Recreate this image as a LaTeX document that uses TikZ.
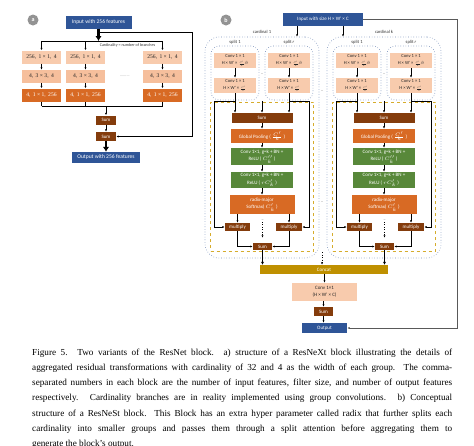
\documentclass[tikz,border=0pt]{standalone}
\usepackage{fix-cm}
\usepackage{amsmath}
\usepackage{fontspec}
\setmainfont{Liberation Serif}
\newfontfamily\diagfont{Carlito}
\usetikzlibrary{arrows.meta}

\definecolor{inblue}{RGB}{47,85,151}
\definecolor{peach}{RGB}{248,203,173}
\definecolor{peachdk}{RGB}{246,191,156}
\definecolor{orng}{RGB}{216,106,36}
\definecolor{brwn}{RGB}{132,60,12}
\definecolor{grn}{RGB}{88,136,58}
\definecolor{mustard}{RGB}{191,144,0}
\definecolor{ylw}{RGB}{214,172,44}
\definecolor{dotblue}{RGB}{118,142,184}

\tikzset{
    blk/.style = {inner sep = 0pt , align = center , font = \diagfont\fontsize{5}{6.3}\selectfont},
    inbox/.style = {blk , fill = inblue , text = white},
    lightbox/.style = {blk , fill = peach , text = black!85},
    orangebox/.style = {blk , fill = orng , text = white},
    sumbox/.style = {blk , fill = brwn , text = white},
    greenbox/.style = {blk , fill = grn , text = white},
    mustardbox/.style = {blk , fill = mustard , text = white},
    rowtext/.style = {font = \rmfamily\fontsize{5.6}{6}\selectfont , minimum width = 39pt , minimum height = 13pt},
    convtext/.style = {font = \diagfont\fontsize{4.6}{7.2}\selectfont , minimum width = 42pt , minimum height = 15pt},
    twoline/.style = {font = \diagfont\fontsize{5}{7.4}\selectfont},
    cardbox/.style = {draw = dotblue , dotted , line width = 0.6pt , rounded corners = 14pt , inner sep = 0pt},
    splitbox/.style = {draw = dotblue , dotted , line width = 0.6pt , rounded corners = 8pt , inner sep = 0pt},
    attbox/.style = {draw = ylw , dashed , line width = 0.9pt , inner sep = 0pt},
    note/.style = {inner sep = 0pt , text = black!80 , font = \diagfont\fontsize{4.6}{5}\selectfont},
    gapmark/.style = {inner sep = 0pt , text = gray , font = \diagfont\fontsize{5}{5}\selectfont},
    tag/.style = {circle , fill = gray!85 , text = white , inner sep = 0pt , minimum size = 11pt , font = \diagfont\bfseries\fontsize{6}{6}\selectfont},
    arr/.style = {-{Latex[length = 2.4pt , width = 2pt]} , line width = 0.5pt},
    fatarr/.style = {-{Latex[length = 5pt , width = 6.5pt]} , line width = 2.6pt},
    midarr/.style = {-{Latex[length = 3pt , width = 3pt]} , line width = 1.3pt}
}

\begin{document}
\begin{tikzpicture}[x = 1pt , y = -1pt]
    \useasboundingbox (0,0) rectangle (474,445);

    % a) ResNeXt block
    \node[tag] (tagA) at (33,20) {a};
    \node[inbox , font = \diagfont\fontsize{5.6}{6}\selectfont , minimum width = 66pt , minimum height = 13pt] (inA) at (98.5,22) {Input with 256 features};
    \coordinate (busA) at (98.5,41); % top bus
    \coordinate (resA) at (98.5,32); % skip branch
    \coordinate (botA) at (106,106); % bottom bus
    \node[note , font = \diagfont\fontsize{4.1}{4}\selectfont] (cardA) at (127.5,45.5) {Cardinality = number of branches};
    \foreach \cx/\nm in {41.5/p,85.5/q,162.5/s} {
        \node[lightbox , rowtext] (ra\nm) at (\cx,57) {256,\, 1 × 1,\, 4};
        \node[lightbox , rowtext , fill = peachdk] (rb\nm) at (\cx,76.5) {4,\, 3 × 3,\, 4};
        \node[orangebox , rowtext] (rc\nm) at (\cx,95) {4,\, 1 × 1,\, 256};
        \draw[arr] (ra\nm.north |- busA) -- (ra\nm.north);
        \draw[arr] (ra\nm) -- (rb\nm);
        \draw[arr] (rb\nm) -- (rc\nm);
        \draw[line width = 0.5pt] (rc\nm.south) -- (rc\nm.south |- botA);
    }
    \draw[line width = 0.6pt] (rap.north |- busA) -- (ras.north |- busA);
    \draw[line width = 0.5pt] (rcp.south |- botA) -- (rcs.south |- botA);
    \node[gapmark , font = \diagfont\fontsize{4}{4}\selectfont] (dotsA) at (125,76) {.........};
    \node[sumbox , minimum width = 20pt , minimum height = 9pt] (sum1A) at (106,120) {Sum};
    \node[sumbox , minimum width = 20pt , minimum height = 9pt] (sum2A) at (106,136.5) {Sum};
    \node[inbox , font = \diagfont\fontsize{5.6}{6}\selectfont , minimum width = 68pt , minimum height = 11pt] (outA) at (106,157.5) {Output with 256 features};
    \draw[fatarr] (inA.south) -- (busA);
    \draw[arr] (botA) -- (sum1A.north);
    \draw[arr] (sum1A) -- (sum2A);
    \draw[arr , line width = 0.8pt] (resA) -| ([xshift = 76pt]sum2A.east) -- (sum2A.east);
    \draw[fatarr] (sum2A.south) -- (outA.north);

    % b) ResNeSt block
    \node[tag] (tagB) at (226,20) {b};
    \node[inbox , minimum width = 80pt , minimum height = 13pt] (inB) at (323,19.5) {Input with size H × W' × C};
    \node[mustardbox , minimum width = 128pt , minimum height = 9pt] (concat) at (324,269.5) {Concat};
    \foreach \dx/\cn in {0/1,122/k} {
        \begin{scope}[xshift = \dx pt]
            \node[cardbox , minimum width = 114pt , minimum height = 221pt] (card\cn) at (262,147.5) {};
            \node[note] (cardlab\cn) at (262,31.5) {cardinal \cn};
            \node[splitbox , minimum width = 48pt , minimum height = 54pt] (spA\cn) at (235,73) {};
            \node[splitbox , minimum width = 48pt , minimum height = 54pt] (spB\cn) at (289,73) {};
            \node[note] (spAlab\cn) at (235,42.5) {split 1};
            \node[note] (spBlab\cn) at (289,42.5) {split \textit{r}};
            \node[attbox , minimum width = 103pt , minimum height = 149pt] (att\cn) at (262,176.5) {};
            \node[lightbox , convtext] (cvA\cn) at (235,60.5) {Conv 1 × 1\\H × W' × ${\scriptstyle\frac{C'}{k}}$/r};
            \node[lightbox , convtext] (cvB\cn) at (235,85.5) {Conv 1 × 1\\H × W' × ${\scriptstyle\frac{C'}{k}}$};
            \node[lightbox , convtext] (cvC\cn) at (289,60.5) {Conv 1 × 1\\H × W' × ${\scriptstyle\frac{C'}{k}}$/r};
            \node[lightbox , convtext] (cvD\cn) at (289,85.5) {Conv 1 × 1\\H × W' × ${\scriptstyle\frac{C'}{k}}$};
            \node[gapmark] (gapS\cn) at (262,75) {–};
            \node[sumbox , minimum width = 61pt , minimum height = 10pt] (sumA\cn) at (262,118) {Sum};
            \node[orangebox , minimum width = 62pt , minimum height = 14pt] (gp\cn) at (262,136) {Global Pooling ( ${\scriptstyle\frac{C'}{k}}$ )};
            \node[greenbox , twoline , minimum width = 62pt , minimum height = 17pt] (gA\cn) at (262,156.5) {Conv 1×1, g=k + BN +\\ReLU ( $C''_{k}$ )};
            \node[greenbox , twoline , minimum width = 62pt , minimum height = 16pt] (gB\cn) at (262,180) {Conv 1×1, g=k + BN +\\ReLU ( $rC'_{k}$ )};
            \node[orangebox , twoline , minimum width = 65pt , minimum height = 19pt] (sm\cn) at (262,204.5) {radix-major\\Softmax( $C'_{k}$ )};
            \node[sumbox , minimum width = 25pt , minimum height = 8pt] (mulA\cn) at (237.5,227) {multiply};
            \node[sumbox , minimum width = 26pt , minimum height = 8pt] (mulB\cn) at (289,227) {multiply};
            \node[sumbox , minimum width = 19pt , minimum height = 7pt] (sumB\cn) at (262.5,246.5) {Sum};
            \node[gapmark] (gapM\cn) at (262.5,221) {–};
            \coordinate (mid\cn) at (262,101);
            \draw[arr] (cvA\cn) -- (cvB\cn);
            \draw[arr] (cvC\cn) -- (cvD\cn);
            \draw[arr] (cvB\cn.south) -- (cvB\cn.south |- sumA\cn.north);
            \draw[arr] (cvD\cn.south) -- (cvD\cn.south |- sumA\cn.north);
            \draw[arr] (mid\cn) -- (sumA\cn.north);
            \draw[arr] (cvB\cn.south |- mid\cn) -| ([xshift = -11pt]mulA\cn.west) -- (mulA\cn.west);
            \draw[arr] (cvD\cn.south |- mid\cn) -| ([xshift = 7pt]mulB\cn.east) -- (mulB\cn.east);
            \draw[arr] (sumA\cn) -- (gp\cn);
            \draw[arr] (gp\cn) -- (gA\cn);
            \draw[arr] (gA\cn) -- (gB\cn);
            \draw[arr] (gB\cn) -- (sm\cn);
            \draw[arr] (sm\cn.south -| mulA\cn) -- (mulA\cn.north);
            \draw[arr] (sm\cn.south -| mulB\cn) -- (mulB\cn.north);
            \draw[arr] (mulA\cn.south) |- (sumB\cn.west);
            \draw[arr] (mulB\cn.south) |- (sumB\cn.east);
            \draw[arr , dotted] (gapM\cn.south) -- ([yshift = 5pt]sumB\cn.north);
            \draw[midarr] (sumB\cn.south) -- (sumB\cn.south |- concat.north);
        \end{scope}
    }
    \node[gapmark] (gapC1) at (322,92) {–};
    \node[gapmark] (gapC2) at (322,203) {–};
    \coordinate (gapC3) at (322,252);
    \node[lightbox , twoline , minimum width = 65pt , minimum height = 18pt] (cvOut) at (324.5,292) {Conv 1×1\\(H × W' × C)};
    \node[sumbox , minimum width = 19pt , minimum height = 9pt] (sumOut) at (323.5,311.5) {Sum};
    \node[inbox , minimum width = 45pt , minimum height = 10pt] (outB) at (324.5,328) {Output};
    \draw[arr] ([xshift = -26pt]inB.south) -- ([xshift = -26pt]inB.south |- card1.north);
    \draw[arr] ([xshift = 20pt]inB.south) -- ([xshift = 20pt]inB.south |- cardk.north);
    \draw[arr , dotted] (gapC3) -- (gapC3 |- concat.north);
    \draw[arr] (concat.south -| cvOut) -- (cvOut.north);
    \draw[arr] (cvOut.south -| sumOut) -- (sumOut.north);
    \draw[arr] (sumOut.south) -- (sumOut.south |- outB.north);
    \draw[arr , draw = black!65 , line width = 1pt] (inB.east) -| ([xshift = 110pt]outB.east) -- (outB.east);

    % caption
    \node[anchor = north west , text width = 420pt , align = justify , inner sep = 0pt , font = \fontsize{9.2}{15.1}\selectfont] (caption) at (32,349) {Figure 5. Two variants of the ResNet block. a) structure of a ResNeXt block illustrating the details of\linebreak aggregated residual transformations with cardinality of 32 and 4 as the width of each group. The comma-\linebreak separated numbers in each block are the number of input features, filter size, and number of output features\linebreak respectively. Cardinality branches are in reality implemented using group convolutions. b) Conceptual\linebreak structure of a ResNeSt block. This Block has an extra hyper parameter called radix that further splits each\linebreak cardinality into smaller groups and passes them through a split attention before aggregating them to\linebreak generate the block's output.};
\end{tikzpicture}
\end{document}
